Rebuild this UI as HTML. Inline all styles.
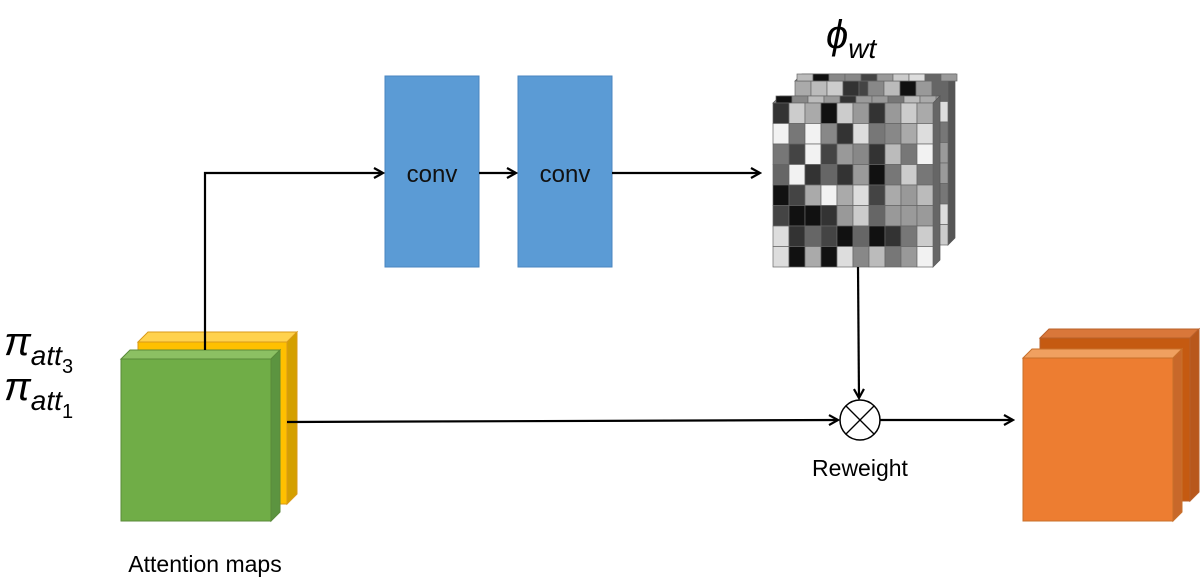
<!DOCTYPE html>
<html><head><meta charset="utf-8"><style>
html,body{margin:0;padding:0;background:#fff;width:1200px;height:581px;overflow:hidden}
svg{display:block}
text{font-family:"Liberation Sans",sans-serif}
</style></head><body>
<svg id="s" width="1200" height="581" viewBox="0 0 1200 581" xmlns="http://www.w3.org/2000/svg">
<defs>
<marker id="a" markerWidth="12" markerHeight="12" refX="10" refY="6" orient="auto" markerUnits="userSpaceOnUse">
<path d="M1,1 L10,6 L1,11" fill="none" stroke="#000" stroke-width="2.2"/>
</marker>
</defs>
<!-- yellow back -->
<polygon points="138,342 148,332 297,332 287,342" fill="#ffd24d" stroke="#d99a1a"/>
<polygon points="287,342 297,332 297,494 287,504" fill="#d4a000" stroke="#d99a1a"/>
<rect x="138" y="342" width="149" height="162" fill="#ffc000" stroke="#d99a1a"/>
<!-- green front -->
<polygon points="121,359 130,350 280,350 271,359" fill="#8cc063" stroke="#5a8a3a"/>
<polygon points="271,359 280,350 280,512 271,521" fill="#5c9440" stroke="#5a8a3a"/>
<rect x="121" y="359" width="150" height="162" fill="#70ad47" stroke="#5a8a3a"/>
<!-- orange back -->
<polygon points="1040,338 1049,329 1199,329 1190,338" fill="#d9773a" stroke="#b8602a"/>
<polygon points="1190,338 1199,329 1199,492 1190,501" fill="#b8581c" stroke="#b8602a"/>
<rect x="1040" y="338" width="150" height="163" fill="#c55a11" stroke="#b8602a"/>
<!-- orange front -->
<polygon points="1023,358 1032,349 1182,349 1173,358" fill="#f0a060" stroke="#c8702a"/>
<polygon points="1173,358 1182,349 1182,512 1173,521" fill="#c8682a" stroke="#c8702a"/>
<rect x="1023" y="358" width="150" height="163" fill="#ed7d31" stroke="#c8702a"/>
<!-- conv boxes -->
<rect x="385" y="76" width="94" height="191" fill="#5b9bd5" stroke="#4a86c0"/>
<rect x="518" y="76" width="94" height="191" fill="#5b9bd5" stroke="#4a86c0"/>
<text x="432" y="182" font-size="24" text-anchor="middle" fill="#111">conv</text>
<text x="565" y="182" font-size="24" text-anchor="middle" fill="#111">conv</text>
<!-- cube -->
<g id="cube"></g>
<!-- connectors -->
<polyline points="205,350 205,173 383,173" fill="none" stroke="#000" stroke-width="2.2" marker-end="url(#a)"/>
<line x1="479" y1="173" x2="516" y2="173" stroke="#000" stroke-width="2.2" marker-end="url(#a)"/>
<line x1="612" y1="173" x2="760" y2="173" stroke="#000" stroke-width="2.2" marker-end="url(#a)"/>
<line x1="858" y1="267" x2="859" y2="398" stroke="#000" stroke-width="2.2" marker-end="url(#a)"/>
<line x1="287" y1="422" x2="838" y2="420" stroke="#000" stroke-width="2.2" marker-end="url(#a)"/>
<line x1="880" y1="420" x2="1013" y2="420" stroke="#000" stroke-width="2.2" marker-end="url(#a)"/>
<circle cx="860" cy="420" r="20" fill="#fff" stroke="#000" stroke-width="1.5"/>
<line x1="846" y1="406" x2="874" y2="434" stroke="#000" stroke-width="1.3"/>
<line x1="874" y1="406" x2="846" y2="434" stroke="#000" stroke-width="1.3"/>
<!-- labels -->
<text x="860" y="476" font-size="23" text-anchor="middle" fill="#000">Reweight</text>
<text x="205" y="572" font-size="23" text-anchor="middle" fill="#000">Attention maps</text>
<text x="826" y="48" font-size="40" font-family="Liberation Serif" font-style="italic" fill="#000">ϕ<tspan font-size="28" dy="10">wt</tspan></text>
<text x="4" y="355" font-size="40" font-family="Liberation Serif" font-style="italic" fill="#000">π<tspan font-size="28" dy="10">att</tspan><tspan font-size="20" dy="8" font-style="normal">3</tspan></text>
<text x="4" y="400" font-size="40" font-family="Liberation Serif" font-style="italic" fill="#000">π<tspan font-size="28" dy="10">att</tspan><tspan font-size="20" dy="8" font-style="normal">1</tspan></text>
</svg>
<script>
(function(){
var g=document.getElementById('cube'),ns='http://www.w3.org/2000/svg',seed=7;
function r(){seed=(seed*9301+49297)%233280;return seed/233280;}
var pal=['#111','#333','#444','#666','#888','#999','#aaa','#bbb','#ccc','#ddd','#f2f2f2','#777','#9a9a9a'];
function rect(x,y,w,h,f){var e=document.createElementNS(ns,'rect');e.setAttribute('x',x);e.setAttribute('y',y);e.setAttribute('width',w);e.setAttribute('height',h);e.setAttribute('fill',f);e.setAttribute('stroke','#666');e.setAttribute('stroke-width','0.7');g.appendChild(e);}
function poly(p,f){var e=document.createElementNS(ns,'polygon');e.setAttribute('points',p);e.setAttribute('fill',f);e.setAttribute('stroke','#555');e.setAttribute('stroke-width','0.7');g.appendChild(e);}
// back block
var bx=795,by=81,cw=16,ch=20.5;
poly('795,81 802,74 955,74 948,81','#888');
poly('948,81 955,74 955,238 948,245','#555');
for(var i=0;i<10;i++)for(var j=0;j<8;j++)rect(bx+i*cw+(i>4?-7:0),by+j*ch,cw,ch,pal[Math.floor(r()*pal.length)]);
for(var i=0;i<10;i++)rect(bx+i*cw+2,74,cw,7,pal[Math.floor(r()*pal.length)]);
// front block
var fx=773,fy=103;
poly('773,103 780,96 940,96 933,103','#999');
for(var i=0;i<10;i++)rect(fx+i*cw+3,96,cw,7,pal[Math.floor(r()*pal.length)]);
poly('933,103 940,96 940,260 933,267','#666');
for(var i=0;i<10;i++)for(var j=0;j<8;j++)rect(fx+i*cw,fy+j*ch,cw,ch,pal[Math.floor(r()*pal.length)]);
})();
</script>
</body></html>
